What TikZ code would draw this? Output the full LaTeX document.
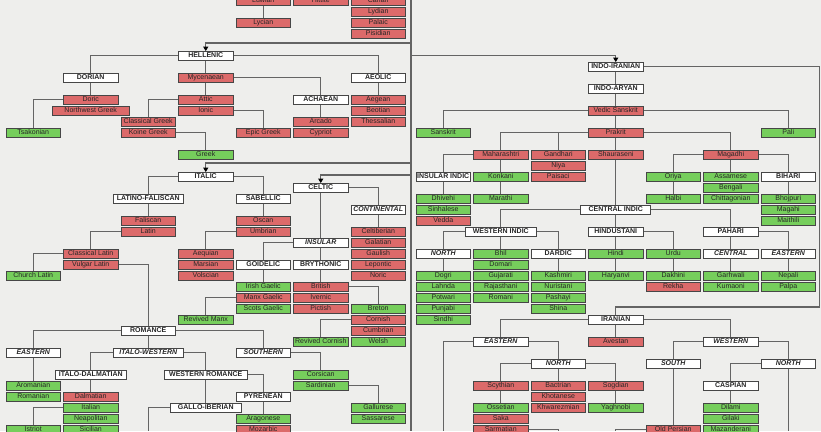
\documentclass[tikz,border=0pt]{standalone}
\usepackage{fontspec}
\setmainfont{Liberation Sans}
\usetikzlibrary{arrows.meta,backgrounds}
\definecolor{bg}{RGB}{238,238,236}
\definecolor{redf}{RGB}{220,106,106}
\definecolor{greenf}{RGB}{118,206,92}
\definecolor{bord}{RGB}{70,70,70}
\definecolor{linec}{RGB}{100,100,100}
\begin{document}
\begin{tikzpicture}[x=1pt,y=-1pt,
  box/.style={draw=bord,line width=0.8pt,minimum width=54.5pt,minimum height=8.5pt,inner sep=0pt,text height=5.1pt,text depth=1.4pt,font=\fontsize{7}{8}\selectfont,text=black!85},
  ext/.style={box,fill=redf},
  liv/.style={box,fill=greenf},
  grp/.style={box,fill=white,font=\fontsize{7}{8}\selectfont\bfseries},
  grpi/.style={grp,font=\fontsize{7}{8}\selectfont\bfseries\itshape},
  conn/.style={draw=linec,line width=1.2pt},
  arr/.style={conn,-{Triangle[width=5pt,length=4.5pt,color=black]}}]
\useasboundingbox (0,0) rectangle (821,431);
\coordinate (ym1) at (0,0.75);
\foreach \i in {0,...,38} {\coordinate (y\i) at (0,{11.75+11*\i});}
\foreach \i in {0,...,6} {\coordinate (a\i) at ({33.25+57.5*\i},0); \coordinate (b\i) at ({443.25+57.5*\i},0);}
\coordinate (bot) at (0,431);
\coordinate (trT) at (411,0);
\coordinate (trB) at (411,431);
\coordinate (jH) at (411,43);
\coordinate (jII) at (411,55.5);
\coordinate (jI) at (411,163);
\coordinate (jC) at (411,175);
\coordinate (cI1) at (819.5,307);

% ---------- top (Anatolian) ----------
\node[ext] (luwian) at (a4|-ym1) {Luwian};
\node[ext] (hittite) at (a5|-ym1) {Hittite};
\node[ext] (carian) at (a6|-ym1) {Carian};
\node[ext] (lycian) at (a4|-y1) {Lycian};
\node[ext] (lydian) at (a6|-y0) {Lydian};
\node[ext] (palaic) at (a6|-y1) {Palaic};
\node[ext] (pisidian) at (a6|-y2) {Pisidian};

% ---------- Hellenic ----------
\node[grp] (hellenic) at (a3|-y4) {HELLENIC};
\node[grp] (dorian) at (a1|-y6) {DORIAN};
\node[ext] (mycenaean) at (a3|-y6) {Mycenaean};
\node[grp] (aeolic) at (a6|-y6) {AEOLIC};
\node[ext] (doric) at (a1|-y8) {Doric};
\node[ext,minimum width=77pt] (nwgreek) at (a1|-y9) {Northwest Greek};
\node[ext] (attic) at (a3|-y8) {Attic};
\node[ext] (ionic) at (a3|-y9) {Ionic};
\node[grp] (achaean) at (a5|-y8) {ACHAEAN};
\node[ext] (aegean) at (a6|-y8) {Aegean};
\node[ext] (beotian) at (a6|-y9) {Beotian};
\node[ext] (thessalian) at (a6|-y10) {Thessalian};
\node[ext] (classgreek) at (a2|-y10) {Classical Greek};
\node[ext] (koine) at (a2|-y11) {Koine Greek};
\node[liv] (tsakonian) at (a0|-y11) {Tsakonian};
\node[ext] (epicgreek) at (a4|-y11) {Epic Greek};
\node[ext] (arcado) at (a5|-y10) {Arcado};
\node[ext] (cypriot) at (a5|-y11) {Cypriot};
\node[liv] (greek) at (a3|-y13) {Greek};

% ---------- Italic / Celtic ----------
\node[grp] (italic) at (a3|-y15) {ITALIC};
\node[grp,minimum width=70pt] (latfal) at (a2|-y17) {LATINO-FALISCAN};
\node[grp] (sabellic) at (a4|-y17) {SABELLIC};
\node[grp] (celtic) at (a5|-y16) {CELTIC};
\node[grpi] (continental) at (a6|-y18) {CONTINENTAL};
\node[ext] (faliscan) at (a2|-y19) {Faliscan};
\node[ext] (latin) at (a2|-y20) {Latin};
\node[ext] (oscan) at (a4|-y19) {Oscan};
\node[ext] (umbrian) at (a4|-y20) {Umbrian};
\node[ext] (celtiberian) at (a6|-y20) {Celtiberian};
\node[ext] (galatian) at (a6|-y21) {Galatian};
\node[ext] (gaulish) at (a6|-y22) {Gaulish};
\node[ext] (lepontic) at (a6|-y23) {Lepontic};
\node[ext] (noric) at (a6|-y24) {Noric};
\node[grpi] (insular) at (a5|-y21) {INSULAR};
\node[ext] (classlatin) at (a1|-y22) {Classical Latin};
\node[ext] (vulgarlatin) at (a1|-y23) {Vulgar Latin};
\node[liv] (churchlatin) at (a0|-y24) {Church Latin};
\node[ext] (aequian) at (a3|-y22) {Aequian};
\node[ext] (marsian) at (a3|-y23) {Marsian};
\node[ext] (volscian) at (a3|-y24) {Volscian};
\node[grp] (goidelic) at (a4|-y23) {GOIDELIC};
\node[grp] (brythonic) at (a5|-y23) {BRYTHONIC};
\node[liv] (irish) at (a4|-y25) {Irish Gaelic};
\node[ext] (manx) at (a4|-y26) {Manx Gaelic};
\node[liv] (scots) at (a4|-y27) {Scots Gaelic};
\node[ext] (british) at (a5|-y25) {British};
\node[ext] (ivernic) at (a5|-y26) {Ivernic};
\node[ext] (pictish) at (a5|-y27) {Pictish};
\node[liv] (breton) at (a6|-y27) {Breton};
\node[ext] (cornish) at (a6|-y28) {Cornish};
\node[ext] (cumbrian) at (a6|-y29) {Cumbrian};
\node[liv] (welsh) at (a6|-y30) {Welsh};
\node[liv] (revmanx) at (a3|-y28) {Revived Manx};
\node[liv] (revcornish) at (a5|-y30) {Revived Cornish};

% ---------- Romance ----------
\node[grp] (romance) at (a2|-y29) {ROMANCE};
\node[grpi] (eastern) at (a0|-y31) {EASTERN};
\node[grpi,minimum width=70pt] (italowestern) at (a2|-y31) {ITALO-WESTERN};
\node[grpi] (southern) at (a4|-y31) {SOUTHERN};
\node[grp,minimum width=71pt] (italodalm) at (a1|-y33) {ITALO-DALMATIAN};
\node[grp,minimum width=83pt] (westrom) at (a3|-y33) {WESTERN ROMANCE};
\node[liv] (corsican) at (a5|-y33) {Corsican};
\node[liv] (sardinian) at (a5|-y34) {Sardinian};
\node[liv] (aromanian) at (a0|-y34) {Aromanian};
\node[liv] (romanian) at (a0|-y35) {Romanian};
\node[ext] (dalmatian) at (a1|-y35) {Dalmatian};
\node[liv] (italian) at (a1|-y36) {Italian};
\node[liv] (neapolitan) at (a1|-y37) {Neapolitan};
\node[liv] (sicilian) at (a1|-y38) {Sicilian};
\node[liv] (istriot) at (a0|-y38) {Istriot};
\node[grp] (pyrenean) at (a4|-y35) {PYRENEAN};
\node[grp,minimum width=71pt] (galloiberian) at (a3|-y36) {GALLO-IBERIAN};
\node[liv] (gallurese) at (a6|-y36) {Gallurese};
\node[liv] (sassarese) at (a6|-y37) {Sassarese};
\node[liv] (aragonese) at (a4|-y37) {Aragonese};
\node[ext] (mozarbic) at (a4|-y38) {Mozarbic};

% ---------- Indo-Aryan ----------
\node[grp] (indoiranian) at (b3|-y5) {INDO-IRANIAN};
\node[grp] (indoaryan) at (b3|-y7) {INDO-ARYAN};
\node[ext] (vedic) at (b3|-y9) {Vedic Sanskrit};
\node[liv] (sanskrit) at (b0|-y11) {Sanskrit};
\node[ext] (prakrit) at (b3|-y11) {Prakrit};
\node[liv] (pali) at (b6|-y11) {Pali};
\node[ext] (maharashtri) at (b1|-y13) {Maharashtri};
\node[ext] (gandhari) at (b2|-y13) {Gandhari};
\node[ext] (shauraseni) at (b3|-y13) {Shauraseni};
\node[ext] (magadhi) at (b5|-y13) {Magadhi};
\node[ext] (niya) at (b2|-y14) {Niya};
\node[grp] (insularindic) at (b0|-y15) {INSULAR INDIC};
\node[liv] (konkani) at (b1|-y15) {Konkani};
\node[ext] (paisaci) at (b2|-y15) {Paisaci};
\node[liv] (oriya) at (b4|-y15) {Oriya};
\node[liv] (assamese) at (b5|-y15) {Assamese};
\node[grp] (bihari) at (b6|-y15) {BIHARI};
\node[liv] (bengali) at (b5|-y16) {Bengali};
\node[liv] (dhivehi) at (b0|-y17) {Dhivehi};
\node[liv] (marathi) at (b1|-y17) {Marathi};
\node[liv] (halbi) at (b4|-y17) {Halbi};
\node[liv] (chittagonian) at (b5|-y17) {Chittagonian};
\node[liv] (bhojpuri) at (b6|-y17) {Bhojpuri};
\node[liv] (sinhalese) at (b0|-y18) {Sinhalese};
\node[grp,minimum width=70pt] (centralindic) at (b3|-y18) {CENTRAL INDIC};
\node[liv] (magahi) at (b6|-y18) {Magahi};
\node[ext] (vedda) at (b0|-y19) {Vedda};
\node[liv] (maithili) at (b6|-y19) {Maithili};
\node[grp,minimum width=71pt] (westernindic) at (b1|-y20) {WESTERN INDIC};
\node[grp] (hindustani) at (b3|-y20) {HINDUSTANI};
\node[grp] (pahari) at (b5|-y20) {PAHARI};
\node[grpi] (northwi) at (b0|-y22) {NORTH};
\node[liv] (bhil) at (b1|-y22) {Bhil};
\node[grp] (dardic) at (b2|-y22) {DARDIC};
\node[liv] (hindi) at (b3|-y22) {Hindi};
\node[liv] (urdu) at (b4|-y22) {Urdu};
\node[grpi] (centralp) at (b5|-y22) {CENTRAL};
\node[grpi] (easternp) at (b6|-y22) {EASTERN};
\node[liv] (domari) at (b1|-y23) {Domari};
\node[liv] (dogri) at (b0|-y24) {Dogri};
\node[liv] (gujarati) at (b1|-y24) {Gujarati};
\node[liv] (kashmiri) at (b2|-y24) {Kashmiri};
\node[liv] (haryanvi) at (b3|-y24) {Haryanvi};
\node[liv] (dakhini) at (b4|-y24) {Dakhini};
\node[liv] (garhwali) at (b5|-y24) {Garhwali};
\node[liv] (nepali) at (b6|-y24) {Nepali};
\node[liv] (lahnda) at (b0|-y25) {Lahnda};
\node[liv] (rajasthani) at (b1|-y25) {Rajasthani};
\node[liv] (nuristani) at (b2|-y25) {Nuristani};
\node[ext] (rekha) at (b4|-y25) {Rekha};
\node[liv] (kumaoni) at (b5|-y25) {Kumaoni};
\node[liv] (palpa) at (b6|-y25) {Palpa};
\node[liv] (potwari) at (b0|-y26) {Potwari};
\node[liv] (romani) at (b1|-y26) {Romani};
\node[liv] (pashayi) at (b2|-y26) {Pashayi};
\node[liv] (punjabi) at (b0|-y27) {Punjabi};
\node[liv] (shina) at (b2|-y27) {Shina};
\node[liv] (sindhi) at (b0|-y28) {Sindhi};

% ---------- Iranian ----------
\node[grp] (iranian) at (b3|-y28) {IRANIAN};
\node[grpi] (easternir) at (b1|-y30) {EASTERN};
\node[ext] (avestan) at (b3|-y30) {Avestan};
\node[grpi] (westernir) at (b5|-y30) {WESTERN};
\node[grpi] (northir) at (b2|-y32) {NORTH};
\node[grpi] (south) at (b4|-y32) {SOUTH};
\node[grpi] (northw) at (b6|-y32) {NORTH};
\node[ext] (scythian) at (b1|-y34) {Scythian};
\node[ext] (bactrian) at (b2|-y34) {Bactrian};
\node[ext] (sogdian) at (b3|-y34) {Sogdian};
\node[grp] (caspian) at (b5|-y34) {CASPIAN};
\node[ext] (khotanese) at (b2|-y35) {Khotanese};
\node[liv] (ossetian) at (b1|-y36) {Ossetian};
\node[ext] (khwarezmian) at (b2|-y36) {Khwarezmian};
\node[liv] (yaghnobi) at (b3|-y36) {Yaghnobi};
\node[liv] (dilami) at (b5|-y36) {Dilami};
\node[ext] (saka) at (b1|-y37) {Saka};
\node[liv] (gilaki) at (b5|-y37) {Gilaki};
\node[ext] (sarmatian) at (b1|-y38) {Sarmatian};
\node[ext] (oldpersian) at (b4|-y38) {Old Persian};
\node[liv] (mazanderani) at (b5|-y38) {Mazanderani};

\begin{pgfonlayer}{background}
\fill[bg] (0,0) rectangle (821,431);
\draw[conn] (trT) -- (trB);
\draw[arr] (jH) -| (hellenic.north);
\draw[arr] (jII) -| (indoiranian.north);
\draw[arr] (jI) -| (italic.north);
\draw[arr] (jC) -| (celtic.north);
% top
\draw[conn] (luwian.south) -- (lycian.north);
% Hellenic
\draw[conn] (hellenic.west) -| (dorian.north);
\draw[conn] (hellenic.east) -| (aeolic.north);
\draw[conn] (hellenic.south) -- (mycenaean.north);
\draw[conn] (mycenaean.south) -- (attic.north);
\draw[conn] (mycenaean.east) -| (achaean.north);
\draw[conn] (attic.west) -| (classgreek.north);
\draw[conn] (ionic.east) -| (epicgreek.north);
\draw[conn] (koine.east) -| (greek.north);
\draw[conn] (dorian.south) -- (doric.north);
\draw[conn] (doric.west) -| (tsakonian.north);
\draw[conn] (achaean.south) -- (arcado.north);
\draw[conn] (aeolic.south) -- (aegean.north);
% Italic
\draw[conn] (italic.west) -| (latfal.north);
\draw[conn] (italic.east) -| (sabellic.north);
\draw[conn] (latfal.south) -- (faliscan.north);
\draw[conn] (sabellic.south) -- (oscan.north);
\draw[conn] (latin.west) -| (classlatin.north);
\draw[conn] (umbrian.west) -| (aequian.north);
\draw[conn] (classlatin.west) -| (churchlatin.north);
\draw[conn] (vulgarlatin.east) -| (romance.north);
% Celtic
\draw[conn] (celtic.east) -| (continental.north);
\draw[conn] (celtic.south) -- (insular.north);
\draw[conn] (continental.south) -- (celtiberian.north);
\draw[conn] (insular.west) -| (goidelic.north);
\draw[conn] (insular.south) -- (brythonic.north);
\draw[conn] (goidelic.south) -- (irish.north);
\draw[conn] (brythonic.south) -- (british.north);
\draw[conn] (manx.west) -| (revmanx.north);
\draw[conn] (british.east) -| (breton.north);
\draw[conn] (cornish.west) -| (revcornish.north);
% Romance
\draw[conn] (romance.west) -| (eastern.north);
\draw[conn] (romance.east) -| (southern.north);
\draw[conn] (romance.south) -- (italowestern.north);
\draw[conn] (italowestern.west) -| (italodalm.north);
\draw[conn] (italowestern.east) -| (westrom.north);
\draw[conn] (southern.east) -| (corsican.north);
\draw[conn] (eastern.south) -- (aromanian.north);
\draw[conn] (italodalm.south) -- (dalmatian.north);
\draw[conn] (italian.west) -| (istriot.north);
\draw[conn] (westrom.east) -| (pyrenean.north);
\draw[conn] (westrom.south) -- (galloiberian.north);
\draw[conn] (galloiberian.west) -| (a2|-bot);
\draw[conn] (pyrenean.south) -- (aragonese.north);
\draw[conn] (sardinian.east) -| (gallurese.north);
% Indo-Aryan
\draw[conn] (indoiranian.south) -- (indoaryan.north);
\draw[conn] (indoaryan.south) -- (vedic.north);
\draw[conn] (vedic.west) -| (sanskrit.north);
\draw[conn] (vedic.east) -| (pali.north);
\draw[conn] (vedic.south) -- (prakrit.north);
\draw[conn] (prakrit.west) -| (maharashtri.north);
\draw[conn] (gandhari.north) |- (prakrit.west);
\draw[conn] (prakrit.east) -| (magadhi.north);
\draw[conn] (prakrit.south) -- (shauraseni.north);
\draw[conn] (shauraseni.south) -- (centralindic.north);
\draw[conn] (maharashtri.west) -| (insularindic.north);
\draw[conn] (maharashtri.south) -- (konkani.north);
\draw[conn] (konkani.south) -- (marathi.north);
\draw[conn] (insularindic.south) -- (dhivehi.north);
\draw[conn] (magadhi.west) -| (oriya.north);
\draw[conn] (magadhi.east) -| (bihari.north);
\draw[conn] (magadhi.south) -- (assamese.north);
\draw[conn] (oriya.south) -- (halbi.north);
\draw[conn] (bihari.south) -- (bhojpuri.north);
\draw[conn] (centralindic.west) -| (westernindic.north);
\draw[conn] (centralindic.east) -| (pahari.north);
\draw[conn] (centralindic.south) -- (hindustani.north);
\draw[conn] (westernindic.west) -| (northwi.north);
\draw[conn] (westernindic.east) -| (dardic.north);
\draw[conn] (westernindic.south) -- (bhil.north);
\draw[conn] (northwi.south) -- (dogri.north);
\draw[conn] (dardic.south) -- (kashmiri.north);
\draw[conn] (hindustani.east) -| (urdu.north);
\draw[conn] (hindustani.south) -- (hindi.north);
\draw[conn] (hindi.south) -- (haryanvi.north);
\draw[conn] (urdu.south) -- (dakhini.north);
\draw[conn] (pahari.east) -| (easternp.north);
\draw[conn] (pahari.south) -- (centralp.north);
\draw[conn] (centralp.south) -- (garhwali.north);
\draw[conn] (easternp.south) -- (nepali.north);
% Iranian
\draw[conn] (indoiranian.east) -| (cI1) -| (iranian.north);
\draw[conn] (iranian.west) -| (easternir.north);
\draw[conn] (iranian.east) -| (westernir.north);
\draw[conn] (iranian.south) -- (avestan.north);
\draw[conn] (easternir.east) -| (northir.north);
\draw[conn] (easternir.west) -| (b0|-bot);
\draw[conn] (northir.west) -| (scythian.north);
\draw[conn] (northir.east) -| (sogdian.north);
\draw[conn] (northir.south) -- (bactrian.north);
\draw[conn] (scythian.south) -- (ossetian.north);
\draw[conn] (sogdian.south) -- (yaghnobi.north);
\draw[conn] (sarmatian.east) -| (b2|-bot);
\draw[conn] (westernir.west) -| (south.north);
\draw[conn] (westernir.east) -| (northw.north);
\draw[conn] (south.south) -- (oldpersian.north);
\draw[conn] (oldpersian.west) -| (b3|-bot);
\draw[conn] (northw.west) -| (caspian.north);
\draw[conn] (northw.south) -- (b6|-bot);
\draw[conn] (caspian.south) -- (dilami.north);
\end{pgfonlayer}
\end{tikzpicture}
\end{document}
